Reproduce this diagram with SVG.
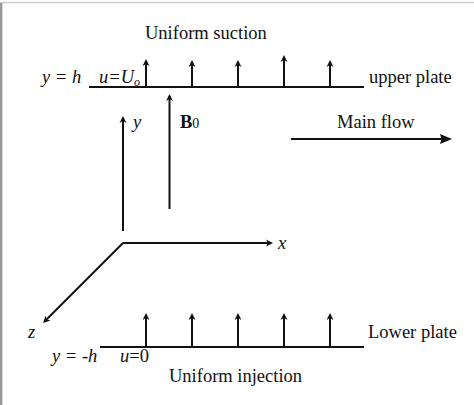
<svg xmlns="http://www.w3.org/2000/svg" width="474" height="405" viewBox="0 0 474 405">
<defs>
<style>
.t{font-family:"Liberation Serif","Times New Roman",serif;font-size:18.5px;fill:#111}
.i{font-style:italic}
.ln{stroke:#111;stroke-width:2;fill:none}
</style>
<marker id="ah" markerUnits="userSpaceOnUse" markerWidth="10" markerHeight="10" viewBox="-1 -5 10 10" refX="5" refY="0" orient="auto">
<path d="M0,-3.5 L7,0 L0,3.5 L2,0 z" fill="#111"/>
</marker>
<marker id="big" markerUnits="userSpaceOnUse" markerWidth="14" markerHeight="12" viewBox="-1 -6 14 12" refX="9" refY="0" orient="auto">
<path d="M0,-5 L12,0 L0,5 L1.5,0 z" fill="#111"/>
</marker>
</defs>
<rect width="474" height="405" fill="#fff"/>
<line x1="0" y1="2.5" x2="474" y2="2.5" stroke="#cfcfcf" stroke-width="1.5"/>
<line x1="1.2" y1="3" x2="1.2" y2="405" stroke="#9a9a9a" stroke-width="2.4"/>

<g id="upper-plate">
<line class="ln" x1="89" y1="87" x2="364" y2="87"/>
<text class="t" x="145" y="39">Uniform suction</text>
<text class="t i" x="42" y="83">y = h</text>
<text class="t i" x="99" y="83">u=U<tspan font-size="12" dy="3">o</tspan></text>
<text class="t" x="369" y="83">upper plate</text>
</g>

<g id="lower-plate">
<line class="ln" x1="100" y1="347" x2="364" y2="347"/>
<text class="t" x="368" y="338">Lower plate</text>
<text class="t i" x="52" y="362">y = -h</text>
<text class="t" x="120" y="362"><tspan font-style="italic">u</tspan>=0</text>
<text class="t" x="169" y="382">Uniform injection</text>
</g>

<g id="axes">
<text class="t i" x="133" y="128">y</text>
<text class="t i" x="278" y="249">x</text>
<text class="t i" x="28" y="338">z</text>
</g>

<g id="field">
<text class="t" x="180" y="128" font-weight="bold">B<tspan font-weight="normal" font-size="14" dy="0">0</tspan></text>
</g>

<g id="main-flow">
<text class="t" x="337" y="128">Main flow</text>
</g>

<g id="connectors">
<line class="ln" x1="146" y1="87" x2="146" y2="61" marker-end="url(#ah)"/>
<line class="ln" x1="192" y1="87" x2="192" y2="62" marker-end="url(#ah)"/>
<line class="ln" x1="238" y1="87" x2="238" y2="62" marker-end="url(#ah)"/>
<line class="ln" x1="284" y1="87" x2="284" y2="57" marker-end="url(#ah)"/>
<line class="ln" x1="330" y1="87" x2="330" y2="62" marker-end="url(#ah)"/>

<line class="ln" x1="146" y1="347" x2="146" y2="315" marker-end="url(#ah)"/>
<line class="ln" x1="192" y1="347" x2="192" y2="315" marker-end="url(#ah)"/>
<line class="ln" x1="238" y1="347" x2="238" y2="315" marker-end="url(#ah)"/>
<line class="ln" x1="284" y1="347" x2="284" y2="315" marker-end="url(#ah)"/>
<line class="ln" x1="330" y1="347" x2="330" y2="315" marker-end="url(#ah)"/>

<line class="ln" x1="169.5" y1="209" x2="169.5" y2="96" marker-end="url(#ah)"/>
<line class="ln" x1="123" y1="231" x2="123" y2="118" marker-end="url(#ah)"/>
<line class="ln" x1="123" y1="243" x2="271" y2="243" marker-end="url(#ah)"/>
<line class="ln" x1="123" y1="243" x2="44.5" y2="321.5" marker-end="url(#ah)"/>
<line class="ln" x1="291" y1="139" x2="449" y2="139" marker-end="url(#big)"/>
</g>
</svg>
